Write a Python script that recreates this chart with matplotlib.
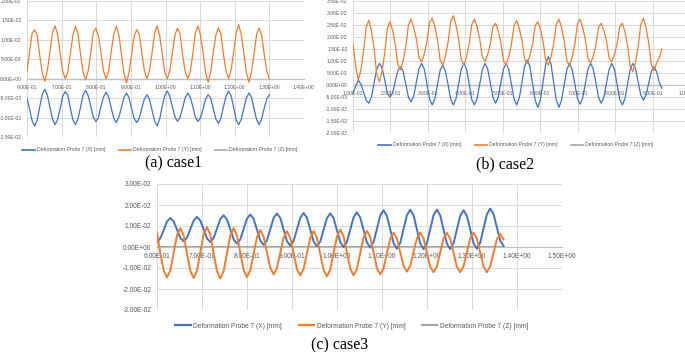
import numpy as np
import matplotlib
matplotlib.use('Agg')
from matplotlib import pyplot as plt
from matplotlib.lines import Line2D
from matplotlib.ticker import FixedLocator, FuncFormatter

# ---- case1 : samples 0.60 .. 1.30 ----
c1_t0, c1_t1 = 0.60, 1.30
c1_x = [
    -0.0050, -0.0078, -0.0108, -0.0122, -0.0106, -0.0072, -0.0040, -0.0027,
    -0.0042, -0.0074, -0.0104, -0.0118, -0.0105, -0.0077, -0.0045, -0.0033,
    -0.0043, -0.0076, -0.0106, -0.0118, -0.0103, -0.0073, -0.0042, -0.0030,
    -0.0044, -0.0072, -0.0099, -0.0110, -0.0100, -0.0071, -0.0047, -0.0035,
    -0.0047, -0.0075, -0.0101, -0.0113, -0.0099, -0.0074, -0.0048, -0.0037,
    -0.0049, -0.0077, -0.0102, -0.0113, -0.0102, -0.0076, -0.0052, -0.0041,
    -0.0053, -0.0081, -0.0109, -0.0121, -0.0104, -0.0071, -0.0044, -0.0032,
    -0.0045, -0.0073, -0.0098, -0.0110, -0.0099, -0.0075, -0.0049, -0.0037,
    -0.0048, -0.0072, -0.0099, -0.0110, -0.0101, -0.0078, -0.0053, -0.0041,
    -0.0050, -0.0077, -0.0103, -0.0115, -0.0102, -0.0072, -0.0045, -0.0032,
    -0.0044, -0.0074, -0.0106, -0.0118, -0.0104, -0.0076, -0.0049, -0.0037,
    -0.0048, -0.0078, -0.0105, -0.0118, -0.0103, -0.0075, -0.0052, -0.0041,
]
c1_y = [
    0.0019, 0.0068, 0.0117, 0.0126, 0.0112, 0.0060, 0.0015, -0.0007,
    0.0022, 0.0070, 0.0118, 0.0136, 0.0114, 0.0066, 0.0020, 0.0000,
    0.0018, 0.0064, 0.0112, 0.0135, 0.0116, 0.0062, 0.0016, -0.0003,
    0.0021, 0.0067, 0.0119, 0.0130, 0.0110, 0.0068, 0.0019, 0.0000,
    0.0019, 0.0069, 0.0114, 0.0135, 0.0113, 0.0063, 0.0014, -0.0011,
    0.0017, 0.0062, 0.0110, 0.0126, 0.0115, 0.0066, 0.0021, 0.0000,
    0.0020, 0.0066, 0.0117, 0.0136, 0.0111, 0.0064, 0.0017, 0.0000,
    0.0021, 0.0068, 0.0113, 0.0130, 0.0114, 0.0061, 0.0018, 0.0000,
    0.0019, 0.0065, 0.0118, 0.0136, 0.0112, 0.0067, 0.0015, -0.0009,
    0.0018, 0.0067, 0.0111, 0.0130, 0.0116, 0.0063, 0.0020, 0.0000,
    0.0022, 0.0069, 0.0119, 0.0139, 0.0113, 0.0065, 0.0016, -0.0009,
    0.0017, 0.0064, 0.0115, 0.0130, 0.0112, 0.0062, 0.0019, 0.0000,
]

# ---- case2 : samples 0.10 .. 0.925 ----
c2_t0, c2_t1 = 0.10, 0.925
c2_x = [
    -0.0035, -0.0005,
    0.0020, 0.0004, -0.0030, -0.0064, -0.0076, -0.0049, 0.0010, 0.0066,
    0.0090, 0.0072, 0.0022, -0.0034, -0.0050, -0.0034, 0.0015, 0.0060,
    0.0076, 0.0056, 0.0004, -0.0052, -0.0070, -0.0046, 0.0012, 0.0068,
    0.0090, 0.0066, 0.0005, -0.0058, -0.0083, -0.0057, 0.0001, 0.0061,
    0.0083, 0.0057, 0.0002, -0.0060, -0.0083, -0.0058, 0.0005, 0.0067,
    0.0090, 0.0066, 0.0006, -0.0061, -0.0083, -0.0055, 0.0004, 0.0064,
    0.0090, 0.0068, 0.0008, -0.0051, -0.0076, -0.0050, 0.0009, 0.0066,
    0.0090, 0.0065, 0.0003, -0.0059, -0.0083, -0.0053, 0.0012, 0.0078,
    0.0104, 0.0077, 0.0006, -0.0063, -0.0093, -0.0060, 0.0014, 0.0088,
    0.0118, 0.0087, 0.0010, -0.0062, -0.0093, -0.0062, 0.0000, 0.0064,
    0.0090, 0.0064, 0.0006, -0.0056, -0.0080, -0.0054, 0.0006, 0.0066,
    0.0090, 0.0066, 0.0009, -0.0052, -0.0076, -0.0052, 0.0008, 0.0065,
    0.0090, 0.0065, 0.0004, -0.0059, -0.0083, -0.0057, 0.0004, 0.0066,
    0.0090, 0.0068, 0.0012, -0.0041, -0.0063, -0.0042, 0.0008, 0.0056,
    0.0076, 0.0055, 0.0012, -0.0014,
]
c2_y = [
    0.0174, 0.0080,
    0.0020, 0.0063, 0.0140, 0.0240, 0.0270, 0.0226, 0.0150, 0.0045,
    0.0014, 0.0058, 0.0132, 0.0235, 0.0264, 0.0228, 0.0170, 0.0085,
    0.0063, 0.0102, 0.0160, 0.0250, 0.0274, 0.0240, 0.0192, 0.0115,
    0.0097, 0.0130, 0.0180, 0.0260, 0.0278, 0.0243, 0.0188, 0.0104,
    0.0083, 0.0120, 0.0178, 0.0265, 0.0288, 0.0250, 0.0192, 0.0106,
    0.0083, 0.0118, 0.0171, 0.0253, 0.0274, 0.0241, 0.0192, 0.0116,
    0.0097, 0.0127, 0.0170, 0.0241, 0.0257, 0.0225, 0.0177, 0.0101,
    0.0083, 0.0117, 0.0168, 0.0248, 0.0268, 0.0235, 0.0186, 0.0109,
    0.0090, 0.0122, 0.0170, 0.0246, 0.0264, 0.0231, 0.0180, 0.0102,
    0.0083, 0.0118, 0.0171, 0.0253, 0.0274, 0.0239, 0.0184, 0.0101,
    0.0080, 0.0115, 0.0170, 0.0253, 0.0274, 0.0240, 0.0189, 0.0110,
    0.0090, 0.0121, 0.0166, 0.0240, 0.0257, 0.0227, 0.0184, 0.0113,
    0.0097, 0.0127, 0.0170, 0.0241, 0.0257, 0.0221, 0.0164, 0.0078,
    0.0056, 0.0095, 0.0160, 0.0253, 0.0278, 0.0239, 0.0176, 0.0085,
    0.0060, 0.0092, 0.0113, 0.0150,
]

# ---- case3 : samples 0.60 .. 1.37 ----
c3_t0, c3_t1 = 0.60, 1.37
c3_x = [
    0.0024, 0.0041, 0.0081, 0.0121, 0.0138, 0.0122, 0.0083, 0.0043,
    0.0027, 0.0044, 0.0085, 0.0126, 0.0143, 0.0126, 0.0084, 0.0041,
    0.0024, 0.0043, 0.0088, 0.0132, 0.0151, 0.0131, 0.0084, 0.0036,
    0.0016, 0.0036, 0.0086, 0.0135, 0.0155, 0.0134, 0.0083, 0.0031,
    0.0010, 0.0032, 0.0085, 0.0138, 0.0160, 0.0138, 0.0083, 0.0028,
    0.0006, 0.0029, 0.0084, 0.0139, 0.0162, 0.0139, 0.0083, 0.0026,
    0.0003, 0.0026, 0.0082, 0.0137, 0.0160, 0.0137, 0.0080, 0.0023,
    0.0000, 0.0024, 0.0083, 0.0141, 0.0165, 0.0140, 0.0081, 0.0022,
    -0.0003, 0.0023, 0.0086, 0.0149, 0.0175, 0.0148, 0.0084, 0.0019,
    -0.0008, 0.0019, 0.0085, 0.0151, 0.0178, 0.0151, 0.0084, 0.0017,
    -0.0010, 0.0017, 0.0084, 0.0151, 0.0178, 0.0151, 0.0084, 0.0017,
    -0.0010, 0.0017, 0.0083, 0.0148, 0.0175, 0.0148, 0.0084, 0.0019,
    -0.0008, 0.0020, 0.0088, 0.0155, 0.0183, 0.0157, 0.0094, 0.0031,
    0.0005,
]
c3_y = [
    0.0070, -0.0030, -0.0111,
    -0.0145, -0.0111, -0.0028, 0.0056, 0.0090, 0.0055, -0.0029, -0.0113,
    -0.0148, -0.0113, -0.0027, 0.0060, 0.0095, 0.0059, -0.0028, -0.0114,
    -0.0150, -0.0115, -0.0030, 0.0055, 0.0090, 0.0056, -0.0027, -0.0109,
    -0.0143, -0.0110, -0.0032, 0.0047, 0.0080, 0.0049, -0.0025, -0.0099,
    -0.0130, -0.0100, -0.0028, 0.0045, 0.0075, 0.0044, -0.0030, -0.0104,
    -0.0135, -0.0104, -0.0030, 0.0044, 0.0075, 0.0044, -0.0033, -0.0109,
    -0.0140, -0.0107, -0.0029, 0.0050, 0.0083, 0.0051, -0.0026, -0.0103,
    -0.0135, -0.0104, -0.0029, 0.0046, 0.0077, 0.0047, -0.0027, -0.0100,
    -0.0130, -0.0101, -0.0031, 0.0039, 0.0068, 0.0041, -0.0025, -0.0090,
    -0.0117, -0.0090, -0.0025, 0.0041, 0.0068, 0.0041, -0.0026, -0.0093,
    -0.0120, -0.0093, -0.0027, 0.0040, 0.0067, 0.0040, -0.0027, -0.0093,
    -0.0120, -0.0093, -0.0026, 0.0041, 0.0068, 0.0041, -0.0026, -0.0093,
    -0.0120, -0.0093, -0.0029, 0.0036, 0.0063, 0.0036,
]
z_val = 0.0

labels = ['Deformation Probe 7 (X) [mm]', 'Deformation Probe 7 (Y) [mm]',
          'Deformation Probe 7 (Z) [mm]']
colors = ['#4472C4', '#ED7D31', '#A5A5A5']
captions = ['(a) case1', '(b) case2', '(c) case3']

W, H = 685, 352
fig = plt.figure(figsize=(W / 100, H / 100), dpi=100)
plt.rcParams['font.family'] = ['Liberation Sans', 'DejaVu Sans']


def px_box(l, r, t, b):
    return [l / W, 1 - b / H, (r - l) / W, (b - t) / H]


fmt = FuncFormatter(lambda v, p: f'{v:.2E}')


def panel(box, t0, t1, xs, ys, xlim, xticks, ylim, yticks, fs, lw, xpad):
    ax = fig.add_axes(box)
    ax.plot([t0, t1], [z_val, z_val], color=colors[2], lw=lw, zorder=2)
    ax.plot(np.linspace(t0, t1, len(xs)), xs, color=colors[0], lw=lw, zorder=3)
    ax.plot(np.linspace(t0, t1, len(ys)), ys, color=colors[1], lw=lw, zorder=4)
    ax.set_xlim(*xlim)
    ax.set_ylim(*ylim)
    ax.xaxis.set_major_locator(FixedLocator(xticks))
    ax.yaxis.set_major_locator(FixedLocator(yticks))
    ax.xaxis.set_major_formatter(fmt)
    ax.yaxis.set_major_formatter(fmt)
    ax.grid(True, color='#D9D9D9', lw=0.7)
    ax.set_axisbelow(True)
    for s in ['top', 'right', 'left']:
        ax.spines[s].set_visible(False)
    ax.spines['bottom'].set_position(('data', 0))
    ax.spines['bottom'].set_color('#BFBFBF')
    ax.tick_params(length=0, labelsize=fs, labelcolor='#595959')
    ax.tick_params(axis='x', pad=xpad)
    ax.tick_params(axis='y', pad=4)
    return ax


panel(px_box(27, 304, 1, 137), c1_t0, c1_t1, c1_x, c1_y,
      (0.6, 1.4), np.arange(6, 15) / 10, (-0.015, 0.02),
      np.arange(-3, 5) * 0.005, 3.6, 0.9, 4.2)
panel(px_box(353, 690, 1, 133), c2_t0, c2_t1, c2_x, c2_y,
      (0.1, 1.0), np.arange(1, 11) / 10, (-0.02, 0.035),
      np.arange(-4, 8) * 0.005, 3.6, 0.9, 4.2)
panel(px_box(157, 562, 184, 310), c3_t0, c3_t1, c3_x, c3_y,
      (0.6, 1.5), np.arange(6, 16) / 10, (-0.03, 0.03),
      np.arange(-3, 4) * 0.01, 4.8, 1.4, 4.6)

leg_kw = dict(loc='center', ncol=3, frameon=False, labelcolor='#595959',
              handletextpad=0.4)
handles = [Line2D([], [], color=c, lw=1.2) for c in colors]
fig.legend(handles, labels, bbox_to_anchor=(160 / W, 1 - 150 / H),
           fontsize=3.7, handlelength=2.4, columnspacing=2.6, **leg_kw)
fig.legend(handles, labels, bbox_to_anchor=(516 / W, 1 - 145 / H),
           fontsize=3.7, handlelength=2.4, columnspacing=2.6, **leg_kw)
h3 = [Line2D([], [], color=c, lw=1.6) for c in colors]
fig.legend(h3, labels, bbox_to_anchor=(352 / W, 1 - 326 / H),
           fontsize=4.8, handlelength=2.3, columnspacing=2.5, **leg_kw)

for txt, (cx, cy) in zip(captions, [(174, 163), (505, 164), (340, 345)]):
    fig.text(cx / W, 1 - cy / H, txt, ha='center', va='center',
             fontsize=11.5, family='Liberation Serif')

fig.savefig('out.png', dpi=100)
